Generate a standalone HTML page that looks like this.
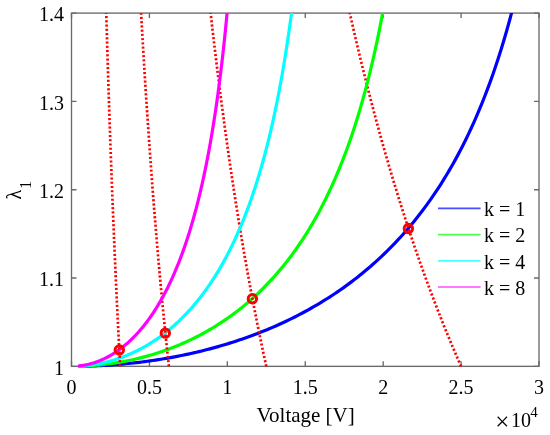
<!DOCTYPE html>
<html><head><meta charset="utf-8"><style>
html,body{margin:0;padding:0;background:#fff;width:550px;height:435px;overflow:hidden}
svg{display:block}
</style></head><body>
<svg width="550" height="435" viewBox="0 0 550 435">
<defs><clipPath id="c"><rect x="71.5" y="13.1" width="467.50" height="356.25"/></clipPath></defs>
<path d="M71.50,366.35 V361.35 M71.50,13.10 V18.10 M149.42,366.35 V361.35 M149.42,13.10 V18.10 M227.33,366.35 V361.35 M227.33,13.10 V18.10 M305.25,366.35 V361.35 M305.25,13.10 V18.10 M383.17,366.35 V361.35 M383.17,13.10 V18.10 M461.08,366.35 V361.35 M461.08,13.10 V18.10 M539.00,366.35 V361.35 M539.00,13.10 V18.10 M71.50,366.35 H76.50 M539.00,366.35 H534.00 M71.50,278.04 H76.50 M539.00,278.04 H534.00 M71.50,189.73 H76.50 M539.00,189.73 H534.00 M71.50,101.41 H76.50 M539.00,101.41 H534.00 M71.50,13.10 H76.50 M539.00,13.10 H534.00" fill="none" stroke="#6a6a6a" stroke-width="1.35"/>
<g fill="none" stroke="#6a6a6a" stroke-width="1.35">
<rect x="71.5" y="13.1" width="467.50" height="353.25"/>
</g>
<g clip-path="url(#c)" fill="none" stroke-linejoin="round">
<path d="M79.29,366.30 L82.01,366.25 L84.73,366.20 L87.46,366.13 L90.18,366.05 L92.90,365.95 L95.62,365.84 L98.34,365.72 L101.06,365.59 L103.78,365.44 L106.50,365.28 L109.23,365.10 L111.95,364.92 L114.67,364.72 L117.39,364.50 L120.11,364.28 L122.83,364.04 L125.55,363.78 L128.28,363.52 L131.00,363.24 L133.72,362.94 L136.44,362.64 L139.16,362.31 L141.88,361.98 L144.60,361.63 L147.32,361.27 L150.05,360.89 L152.77,360.50 L155.49,360.10 L158.21,359.68 L160.93,359.24 L163.65,358.79 L166.37,358.33 L169.10,357.85 L171.82,357.36 L174.54,356.86 L177.26,356.33 L179.98,355.80 L182.70,355.24 L185.42,354.68 L188.14,354.09 L190.87,353.49 L193.59,352.88 L196.31,352.25 L199.03,351.60 L201.75,350.94 L204.47,350.26 L207.19,349.56 L209.91,348.85 L212.64,348.12 L215.36,347.38 L218.08,346.61 L220.80,345.83 L223.52,345.03 L226.24,344.21 L228.96,343.38 L231.69,342.53 L234.41,341.65 L237.13,340.76 L239.85,339.85 L242.57,338.92 L245.29,337.98 L248.01,337.01 L250.73,336.02 L253.46,335.01 L256.18,333.98 L258.90,332.93 L261.62,331.86 L264.34,330.77 L267.06,329.65 L269.78,328.51 L272.51,327.35 L275.23,326.17 L277.95,324.97 L280.67,323.74 L283.39,322.48 L286.11,321.20 L288.83,319.90 L291.55,318.57 L294.28,317.22 L297.00,315.84 L299.72,314.43 L302.44,313.00 L305.16,311.53 L307.88,310.04 L310.60,308.52 L313.32,306.98 L316.05,305.40 L318.77,303.79 L321.49,302.15 L324.21,300.48 L326.93,298.77 L329.65,297.04 L332.37,295.27 L335.10,293.46 L337.82,291.62 L340.54,289.74 L343.26,287.83 L345.98,285.88 L348.70,283.89 L351.42,281.85 L354.14,279.78 L356.87,277.67 L359.59,275.52 L362.31,273.32 L365.03,271.07 L367.75,268.79 L370.47,266.45 L373.19,264.06 L375.92,261.63 L378.64,259.14 L381.36,256.61 L384.08,254.01 L386.80,251.37 L389.52,248.66 L392.24,245.90 L394.96,243.07 L397.69,240.19 L400.41,237.23 L403.13,234.22 L405.85,231.13 L408.57,227.97 L411.29,224.74 L414.01,221.43 L416.73,218.05 L419.46,214.58 L422.18,211.03 L424.90,207.40 L427.62,203.67 L430.34,199.85 L433.06,195.93 L435.78,191.92 L438.51,187.79 L441.23,183.56 L443.95,179.22 L446.67,174.75 L449.39,170.17 L452.11,165.45 L454.83,160.60 L457.55,155.61 L460.28,150.47 L463.00,145.18 L465.72,139.73 L468.44,134.10 L471.16,128.30 L473.88,122.32 L476.60,116.13 L479.33,109.74 L482.05,103.12 L484.77,96.28 L487.49,89.19 L490.21,81.84 L492.93,74.21 L495.65,66.29 L498.37,58.05 L501.10,49.48 L503.82,40.55 L506.54,31.23 L509.26,21.51 L511.98,11.33" stroke="#0000ff" stroke-width="3.2" stroke-linecap="round"/>
<path d="M461.08,366.35 L459.11,361.86 L457.16,357.36 L455.23,352.87 L453.31,348.37 L451.42,343.88 L449.54,339.39 L447.68,334.89 L445.84,330.40 L444.02,325.91 L442.22,321.41 L440.43,316.92 L438.66,312.42 L436.91,307.93 L435.17,303.44 L433.46,298.94 L431.75,294.45 L430.07,289.95 L428.39,285.46 L426.74,280.97 L425.10,276.47 L423.47,271.98 L421.86,267.48 L420.26,262.99 L418.68,258.50 L417.12,254.00 L415.56,249.51 L414.02,245.02 L412.50,240.52 L410.99,236.03 L409.49,231.53 L408.00,227.04 L406.53,222.55 L405.07,218.05 L403.62,213.56 L402.19,209.06 L400.77,204.57 L399.36,200.08 L397.96,195.58 L396.57,191.09 L395.20,186.59 L393.83,182.10 L392.48,177.61 L391.14,173.11 L389.81,168.62 L388.50,164.13 L387.19,159.63 L385.89,155.14 L384.61,150.64 L383.33,146.15 L382.07,141.66 L380.81,137.16 L379.57,132.67 L378.33,128.17 L377.11,123.68 L375.89,119.19 L374.69,114.69 L373.49,110.20 L372.30,105.71 L371.13,101.21 L369.96,96.72 L368.80,92.22 L367.65,87.73 L366.51,83.24 L365.38,78.74 L364.25,74.25 L363.14,69.75 L362.03,65.26 L360.93,60.77 L359.84,56.27 L358.76,51.78 L357.69,47.28 L356.62,42.79 L355.56,38.30 L354.51,33.80 L353.47,29.31 L352.44,24.82 L351.41,20.32 L350.39,15.83 L349.38,11.33" stroke="#ff0000" stroke-width="2.7" stroke-dasharray="2.1 2.15"/>
<path d="M79.29,366.24 L81.20,366.19 L83.11,366.11 L85.02,366.03 L86.93,365.93 L88.84,365.82 L90.75,365.70 L92.66,365.57 L94.57,365.42 L96.48,365.26 L98.39,365.08 L100.30,364.90 L102.21,364.70 L104.12,364.49 L106.03,364.26 L107.94,364.02 L109.85,363.77 L111.76,363.50 L113.67,363.22 L115.58,362.93 L117.49,362.62 L119.40,362.31 L121.31,361.97 L123.22,361.63 L125.13,361.27 L127.04,360.89 L128.95,360.50 L130.86,360.10 L132.77,359.69 L134.68,359.26 L136.59,358.81 L138.50,358.35 L140.41,357.88 L142.32,357.39 L144.23,356.89 L146.14,356.37 L148.05,355.84 L149.96,355.29 L151.87,354.73 L153.78,354.16 L155.69,353.56 L157.60,352.95 L159.51,352.33 L161.42,351.69 L163.33,351.03 L165.24,350.36 L167.15,349.67 L169.06,348.97 L170.97,348.25 L172.88,347.51 L174.79,346.76 L176.70,345.98 L178.61,345.19 L180.52,344.39 L182.43,343.56 L184.34,342.72 L186.25,341.86 L188.16,340.98 L190.07,340.08 L191.98,339.16 L193.89,338.23 L195.80,337.27 L197.71,336.29 L199.62,335.30 L201.53,334.28 L203.44,333.25 L205.35,332.19 L207.26,331.11 L209.17,330.01 L211.08,328.89 L212.99,327.75 L214.90,326.58 L216.81,325.39 L218.71,324.18 L220.62,322.94 L222.53,321.68 L224.44,320.40 L226.35,319.09 L228.26,317.76 L230.17,316.40 L232.08,315.01 L233.99,313.60 L235.90,312.16 L237.81,310.69 L239.72,309.20 L241.63,307.67 L243.54,306.12 L245.45,304.54 L247.36,302.92 L249.27,301.28 L251.18,299.60 L253.09,297.90 L255.00,296.16 L256.91,294.38 L258.82,292.57 L260.73,290.73 L262.64,288.85 L264.55,286.93 L266.46,284.97 L268.37,282.98 L270.28,280.95 L272.19,278.88 L274.10,276.76 L276.01,274.60 L277.92,272.40 L279.83,270.16 L281.74,267.87 L283.65,265.53 L285.56,263.14 L287.47,260.71 L289.38,258.22 L291.29,255.68 L293.20,253.09 L295.11,250.44 L297.02,247.74 L298.93,244.98 L300.84,242.15 L302.75,239.27 L304.66,236.32 L306.57,233.30 L308.48,230.22 L310.39,227.06 L312.30,223.84 L314.21,220.53 L316.12,217.15 L318.03,213.69 L319.94,210.15 L321.85,206.52 L323.76,202.80 L325.67,198.98 L327.58,195.07 L329.49,191.06 L331.40,186.95 L333.31,182.73 L335.22,178.39 L337.13,173.94 L339.04,169.37 L340.95,164.66 L342.86,159.83 L344.77,154.85 L346.68,149.73 L348.59,144.46 L350.50,139.02 L352.41,133.42 L354.32,127.64 L356.23,121.68 L358.14,115.52 L360.05,109.15 L361.96,102.57 L363.87,95.76 L365.78,88.70 L367.69,81.39 L369.60,73.80 L371.51,65.92 L373.42,57.74 L375.33,49.22 L377.24,40.34 L379.15,31.09 L381.06,21.43 L382.97,11.33" stroke="#00ff00" stroke-width="3.2" stroke-linecap="round"/>
<path d="M266.29,366.35 L265.31,361.86 L264.33,357.36 L263.36,352.87 L262.41,348.37 L261.46,343.88 L260.52,339.39 L259.59,334.89 L258.67,330.40 L257.76,325.91 L256.86,321.41 L255.97,316.92 L255.08,312.42 L254.21,307.93 L253.34,303.44 L252.48,298.94 L251.63,294.45 L250.78,289.95 L249.95,285.46 L249.12,280.97 L248.30,276.47 L247.49,271.98 L246.68,267.48 L245.88,262.99 L245.09,258.50 L244.31,254.00 L243.53,249.51 L242.76,245.02 L242.00,240.52 L241.24,236.03 L240.49,231.53 L239.75,227.04 L239.01,222.55 L238.28,218.05 L237.56,213.56 L236.84,209.06 L236.13,204.57 L235.43,200.08 L234.73,195.58 L234.04,191.09 L233.35,186.59 L232.67,182.10 L231.99,177.61 L231.32,173.11 L230.66,168.62 L230.00,164.13 L229.34,159.63 L228.70,155.14 L228.05,150.64 L227.42,146.15 L226.78,141.66 L226.16,137.16 L225.53,132.67 L224.92,128.17 L224.30,123.68 L223.70,119.19 L223.09,114.69 L222.50,110.20 L221.90,105.71 L221.31,101.21 L220.73,96.72 L220.15,92.22 L219.57,87.73 L219.00,83.24 L218.44,78.74 L217.88,74.25 L217.32,69.75 L216.77,65.26 L216.22,60.77 L215.67,56.27 L215.13,51.78 L214.59,47.28 L214.06,42.79 L213.53,38.30 L213.01,33.80 L212.49,29.31 L211.97,24.82 L211.45,20.32 L210.94,15.83 L210.44,11.33" stroke="#ff0000" stroke-width="2.7" stroke-dasharray="2.1 2.15"/>
<path d="M79.29,366.14 L80.63,366.06 L81.96,365.97 L83.30,365.86 L84.64,365.75 L85.97,365.62 L87.31,365.48 L88.64,365.32 L89.98,365.15 L91.32,364.98 L92.65,364.78 L93.99,364.58 L95.33,364.36 L96.66,364.13 L98.00,363.88 L99.33,363.63 L100.67,363.36 L102.01,363.08 L103.34,362.78 L104.68,362.47 L106.01,362.15 L107.35,361.81 L108.69,361.46 L110.02,361.10 L111.36,360.72 L112.70,360.34 L114.03,359.93 L115.37,359.51 L116.70,359.08 L118.04,358.64 L119.38,358.18 L120.71,357.71 L122.05,357.22 L123.38,356.72 L124.72,356.20 L126.06,355.67 L127.39,355.12 L128.73,354.56 L130.07,353.99 L131.40,353.40 L132.74,352.79 L134.07,352.17 L135.41,351.53 L136.75,350.88 L138.08,350.21 L139.42,349.53 L140.75,348.83 L142.09,348.11 L143.43,347.38 L144.76,346.63 L146.10,345.86 L147.44,345.08 L148.77,344.27 L150.11,343.46 L151.44,342.62 L152.78,341.77 L154.12,340.89 L155.45,340.00 L156.79,339.09 L158.12,338.17 L159.46,337.22 L160.80,336.25 L162.13,335.27 L163.47,334.26 L164.81,333.24 L166.14,332.19 L167.48,331.12 L168.81,330.04 L170.15,328.93 L171.49,327.80 L172.82,326.64 L174.16,325.47 L175.49,324.27 L176.83,323.05 L178.17,321.81 L179.50,320.54 L180.84,319.25 L182.18,317.93 L183.51,316.59 L184.85,315.22 L186.18,313.83 L187.52,312.41 L188.86,310.96 L190.19,309.49 L191.53,307.99 L192.86,306.45 L194.20,304.90 L195.54,303.31 L196.87,301.69 L198.21,300.04 L199.55,298.36 L200.88,296.64 L202.22,294.90 L203.55,293.12 L204.89,291.30 L206.23,289.45 L207.56,287.57 L208.90,285.65 L210.23,283.69 L211.57,281.69 L212.91,279.65 L214.24,277.58 L215.58,275.46 L216.92,273.30 L218.25,271.10 L219.59,268.85 L220.92,266.56 L222.26,264.22 L223.60,261.83 L224.93,259.39 L226.27,256.91 L227.60,254.37 L228.94,251.78 L230.28,249.13 L231.61,246.43 L232.95,243.66 L234.29,240.84 L235.62,237.96 L236.96,235.01 L238.29,232.00 L239.63,228.92 L240.97,225.77 L242.30,222.55 L243.64,219.25 L244.98,215.88 L246.31,212.42 L247.65,208.88 L248.98,205.26 L250.32,201.55 L251.66,197.75 L252.99,193.85 L254.33,189.85 L255.66,185.75 L257.00,181.54 L258.34,177.22 L259.67,172.79 L261.01,168.23 L262.35,163.54 L263.68,158.73 L265.02,153.78 L266.35,148.68 L267.69,143.43 L269.03,138.02 L270.36,132.45 L271.70,126.70 L273.03,120.77 L274.37,114.65 L275.71,108.33 L277.04,101.79 L278.38,95.02 L279.72,88.01 L281.05,80.76 L282.39,73.23 L283.72,65.41 L285.06,57.29 L286.40,48.85 L287.73,40.05 L289.07,30.89 L290.40,21.33 L291.74,11.33" stroke="#00ffff" stroke-width="3.2" stroke-linecap="round"/>
<path d="M168.90,366.35 L168.40,361.86 L167.91,357.36 L167.43,352.87 L166.95,348.37 L166.48,343.88 L166.01,339.39 L165.55,334.89 L165.09,330.40 L164.63,325.91 L164.18,321.41 L163.73,316.92 L163.29,312.42 L162.85,307.93 L162.42,303.44 L161.99,298.94 L161.56,294.45 L161.14,289.95 L160.72,285.46 L160.31,280.97 L159.90,276.47 L159.49,271.98 L159.09,267.48 L158.69,262.99 L158.30,258.50 L157.90,254.00 L157.52,249.51 L157.13,245.02 L156.75,240.52 L156.37,236.03 L156.00,231.53 L155.63,227.04 L155.26,222.55 L154.89,218.05 L154.53,213.56 L154.17,209.06 L153.82,204.57 L153.46,200.08 L153.11,195.58 L152.77,191.09 L152.42,186.59 L152.08,182.10 L151.75,177.61 L151.41,173.11 L151.08,168.62 L150.75,164.13 L150.42,159.63 L150.10,155.14 L149.78,150.64 L149.46,146.15 L149.14,141.66 L148.83,137.16 L148.52,132.67 L148.21,128.17 L147.90,123.68 L147.60,119.19 L147.30,114.69 L147.00,110.20 L146.70,105.71 L146.41,101.21 L146.11,96.72 L145.82,92.22 L145.54,87.73 L145.25,83.24 L144.97,78.74 L144.69,74.25 L144.41,69.75 L144.13,65.26 L143.86,60.77 L143.59,56.27 L143.32,51.78 L143.05,47.28 L142.78,42.79 L142.52,38.30 L142.25,33.80 L141.99,29.31 L141.73,24.82 L141.48,20.32 L141.22,15.83 L140.97,11.33" stroke="#ff0000" stroke-width="2.7" stroke-dasharray="2.1 2.15"/>
<path d="M79.29,365.93 L80.22,365.82 L81.15,365.70 L82.08,365.57 L83.01,365.42 L83.94,365.27 L84.87,365.10 L85.80,364.92 L86.74,364.72 L87.67,364.52 L88.60,364.30 L89.53,364.07 L90.46,363.83 L91.39,363.57 L92.32,363.30 L93.25,363.02 L94.18,362.73 L95.11,362.42 L96.04,362.10 L96.97,361.77 L97.90,361.42 L98.83,361.07 L99.76,360.69 L100.69,360.31 L101.62,359.91 L102.55,359.50 L103.48,359.07 L104.41,358.64 L105.34,358.18 L106.27,357.72 L107.21,357.24 L108.14,356.74 L109.07,356.24 L110.00,355.72 L110.93,355.18 L111.86,354.63 L112.79,354.06 L113.72,353.48 L114.65,352.89 L115.58,352.28 L116.51,351.66 L117.44,351.02 L118.37,350.36 L119.30,349.69 L120.23,349.01 L121.16,348.30 L122.09,347.59 L123.02,346.85 L123.95,346.10 L124.88,345.34 L125.81,344.55 L126.74,343.75 L127.68,342.94 L128.61,342.10 L129.54,341.25 L130.47,340.38 L131.40,339.49 L132.33,338.59 L133.26,337.66 L134.19,336.72 L135.12,335.76 L136.05,334.78 L136.98,333.78 L137.91,332.76 L138.84,331.72 L139.77,330.66 L140.70,329.58 L141.63,328.48 L142.56,327.36 L143.49,326.22 L144.42,325.05 L145.35,323.86 L146.28,322.65 L147.21,321.42 L148.15,320.16 L149.08,318.89 L150.01,317.58 L150.94,316.25 L151.87,314.90 L152.80,313.52 L153.73,312.12 L154.66,310.69 L155.59,309.23 L156.52,307.75 L157.45,306.24 L158.38,304.70 L159.31,303.13 L160.24,301.53 L161.17,299.91 L162.10,298.25 L163.03,296.56 L163.96,294.84 L164.89,293.08 L165.82,291.30 L166.75,289.48 L167.68,287.62 L168.62,285.73 L169.55,283.80 L170.48,281.84 L171.41,279.84 L172.34,277.79 L173.27,275.71 L174.20,273.59 L175.13,271.43 L176.06,269.22 L176.99,266.97 L177.92,264.68 L178.85,262.34 L179.78,259.95 L180.71,257.51 L181.64,255.02 L182.57,252.48 L183.50,249.89 L184.43,247.25 L185.36,244.54 L186.29,241.78 L187.22,238.97 L188.15,236.09 L189.09,233.14 L190.02,230.14 L190.95,227.06 L191.88,223.92 L192.81,220.70 L193.74,217.41 L194.67,214.05 L195.60,210.60 L196.53,207.08 L197.46,203.47 L198.39,199.77 L199.32,195.98 L200.25,192.10 L201.18,188.12 L202.11,184.04 L203.04,179.85 L203.97,175.55 L204.90,171.14 L205.83,166.61 L206.76,161.95 L207.69,157.16 L208.62,152.24 L209.55,147.18 L210.49,141.97 L211.42,136.60 L212.35,131.07 L213.28,125.37 L214.21,119.49 L215.14,113.42 L216.07,107.15 L217.00,100.67 L217.93,93.97 L218.86,87.04 L219.79,79.85 L220.72,72.41 L221.65,64.68 L222.58,56.66 L223.51,48.32 L224.44,39.64 L225.37,30.61 L226.30,21.18 L227.23,11.33" stroke="#ff00ff" stroke-width="3.2" stroke-linecap="round"/>
<path d="M120.20,366.35 L119.95,361.86 L119.71,357.36 L119.47,352.87 L119.23,348.37 L118.99,343.88 L118.76,339.39 L118.52,334.89 L118.29,330.40 L118.07,325.91 L117.84,321.41 L117.62,316.92 L117.40,312.42 L117.18,307.93 L116.96,303.44 L116.74,298.94 L116.53,294.45 L116.32,289.95 L116.11,285.46 L115.90,280.97 L115.70,276.47 L115.50,271.98 L115.30,267.48 L115.10,262.99 L114.90,258.50 L114.70,254.00 L114.51,249.51 L114.32,245.02 L114.12,240.52 L113.94,236.03 L113.75,231.53 L113.56,227.04 L113.38,222.55 L113.20,218.05 L113.02,213.56 L112.84,209.06 L112.66,204.57 L112.48,200.08 L112.31,195.58 L112.13,191.09 L111.96,186.59 L111.79,182.10 L111.62,177.61 L111.46,173.11 L111.29,168.62 L111.12,164.13 L110.96,159.63 L110.80,155.14 L110.64,150.64 L110.48,146.15 L110.32,141.66 L110.16,137.16 L110.01,132.67 L109.85,128.17 L109.70,123.68 L109.55,119.19 L109.40,114.69 L109.25,110.20 L109.10,105.71 L108.95,101.21 L108.81,96.72 L108.66,92.22 L108.52,87.73 L108.38,83.24 L108.23,78.74 L108.09,74.25 L107.95,69.75 L107.82,65.26 L107.68,60.77 L107.54,56.27 L107.41,51.78 L107.27,47.28 L107.14,42.79 L107.01,38.30 L106.88,33.80 L106.75,29.31 L106.62,24.82 L106.49,20.32 L106.36,15.83 L106.23,11.33" stroke="#ff0000" stroke-width="2.7" stroke-dasharray="2.1 2.15"/>
<circle cx="408.38" cy="228.49" r="4.2" stroke="#ff0000" stroke-width="3.0"/>
<circle cx="252.40" cy="298.82" r="4.2" stroke="#ff0000" stroke-width="3.0"/>
<circle cx="165.33" cy="333.13" r="4.2" stroke="#ff0000" stroke-width="3.0"/>
<circle cx="119.30" cy="349.99" r="4.2" stroke="#ff0000" stroke-width="3.0"/>
</g>
<g font-family="Liberation Serif, Times New Roman, serif" font-size="20" fill="#000">
<text x="71.50" y="394" text-anchor="middle">0</text>
<text x="149.42" y="394" text-anchor="middle">0.5</text>
<text x="227.33" y="394" text-anchor="middle">1</text>
<text x="305.25" y="394" text-anchor="middle">1.5</text>
<text x="383.17" y="394" text-anchor="middle">2</text>
<text x="461.08" y="394" text-anchor="middle">2.5</text>
<text x="539.00" y="394" text-anchor="middle">3</text>
<text x="64.0" y="374.65" text-anchor="end">1</text>
<text x="64.0" y="286.34" text-anchor="end">1.1</text>
<text x="64.0" y="198.03" text-anchor="end">1.2</text>
<text x="64.0" y="109.71" text-anchor="end">1.3</text>
<text x="64.0" y="21.40" text-anchor="end">1.4</text>
<text x="256.6" y="422.1" font-size="21">Voltage [V]</text>
<text x="495.2" y="430" font-size="25">&#215;</text><text x="510.9" y="426.8">10</text><text x="530.2" y="416.7" font-size="15">4</text>
<text transform="translate(21,199.6) rotate(-90)">&#955;<tspan font-size="16.5" dy="9.6" dx="0.8">1</tspan></text>
<line x1="438" x2="480.6" y1="208.40" y2="208.40" stroke="#0000ff" stroke-width="1.7" stroke-opacity="0.7"/>
<text x="484" y="216.20">k = 1</text>
<line x1="438" x2="480.6" y1="234.60" y2="234.60" stroke="#00ff00" stroke-width="1.7" stroke-opacity="0.7"/>
<text x="484" y="242.40">k = 2</text>
<line x1="438" x2="480.6" y1="260.80" y2="260.80" stroke="#00ffff" stroke-width="1.7" stroke-opacity="0.7"/>
<text x="484" y="268.60">k = 4</text>
<line x1="438" x2="480.6" y1="287.00" y2="287.00" stroke="#ff00ff" stroke-width="1.7" stroke-opacity="0.7"/>
<text x="484" y="294.80">k = 8</text>
</g>
</svg>
</body></html>
